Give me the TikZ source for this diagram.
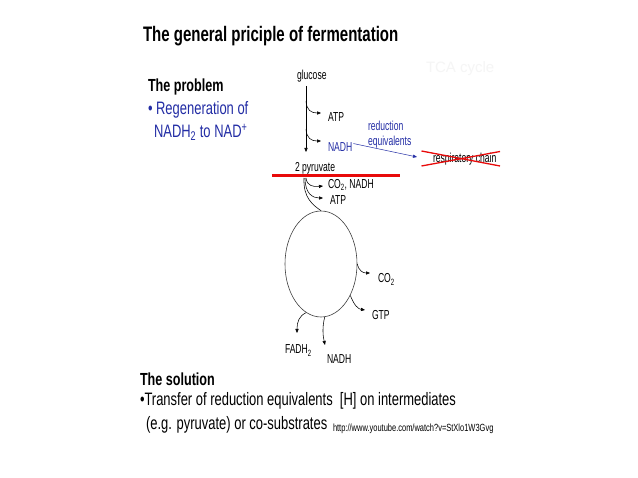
\documentclass[tikz,border=0pt]{standalone}
\usepackage{fontspec}
\setmainfont{Liberation Sans}[FakeStretch=0.72]
\newfontfamily\plainfont{Liberation Sans}
\newfontfamily\labfont{Liberation Sans}[FakeStretch=0.66]
\newfontfamily\titfont{Liberation Sans}[FakeStretch=0.715]
\usetikzlibrary{arrows.meta,shapes.geometric}
\definecolor{slideblue}{RGB}{35,45,165}
\definecolor{slidered}{RGB}{232,10,10}
\definecolor{ghost}{RGB}{245,245,245}
\begin{document}
\begin{tikzpicture}[x=1pt,y=-1pt,
  txt/.style={anchor=base west,inner sep=0pt,outer sep=0pt},
  title/.style={txt,font=\titfont\bfseries\fontsize{21}{24}\selectfont},
  head/.style={txt,font=\bfseries\fontsize{17.5}{20}\selectfont},
  body/.style={txt,font=\fontsize{18}{21}\selectfont},
  lbl/.style={txt,font=\labfont\fontsize{13}{15}\selectfont},
  arr/.style={-{Triangle[length=4pt,width=3.2pt]},line width=0.55pt},
  cross/.style={draw=slidered,line width=1.3pt}]
\fill[white] (0,0) rectangle (638,478);
\useasboundingbox (0,0) rectangle (638,478);

% texts
\node[title] (ttl) at (143,42) {The general priciple of fermentation};
\node[txt,font=\plainfont\fontsize{15}{18}\selectfont,text=ghost] (tca label) at (426,73) {TCA cycle};
\node[head] (prob) at (148,92) {The problem};
\node[body,text=slideblue] (prob1) at (148,115) {\textbullet\ Regeneration of};
\node[body,text=slideblue] (prob2) at (154,138) {NADH\textsubscript{2} to NAD\textsuperscript{+}};

% glycolysis
\node[lbl] (glc) at (297,80) {glucose};
\node[lbl] (atp1) at (328,121.5) {ATP};
\node[lbl,text=slideblue] (nadh1) at (328,151.5) {NADH};
\node[lbl,text=slideblue] (red1) at (368,131) {reduction};
\node[lbl,text=slideblue] (red2) at (368,146) {equivalents};
\node[lbl] (resp) at (433,163) {respiratory chain};
\node[lbl] (pyr) at (295,171.5) {2 pyruvate};
\node[lbl] (co2a) at (328,188.5) {CO\textsubscript{2}, NADH};
\node[lbl] (atp2) at (330,205) {ATP};

\coordinate (gtop) at (306,86);
\coordinate (gend) at (306,152);
\draw[arr] (gtop) -- (gend);
\draw[arr] (306,101) .. controls (306.5,110) and (311,113) .. (321,113);
\draw[arr] (306,129) .. controls (306.5,138) and (311,141) .. (321,141);
\draw[arr,draw=slideblue,line width=0.5pt] (nadh1.east) ++(1,-3.5) coordinate (bstart) -- (417,157) coordinate (bend);

% crossed out respiratory chain
\draw[cross] (421.5,151) -- (500,166);
\draw[cross] (421.5,166) -- (500,151.5);

% red bar
\draw[draw=slidered,line width=3pt] (272,175.5) -- (400,175.5);

% TCA circle
\node[ellipse,draw=black!75,line width=0.6pt,minimum width=72pt,minimum height=106pt,inner sep=0pt] (tca) at (321,264) {};
\draw[arr] (306,178) .. controls (307,186) and (313,187) .. (323,186);
\draw[arr] (305,178) .. controls (305,194) and (313,198) .. (323,198);
\draw[line width=0.55pt] (304,178) .. controls (303,198) and (313,205) .. (tca.north);

\node[lbl] (co2b) at (378,283) {CO\textsubscript{2}};
\node[lbl] (gtp) at (372,319.5) {GTP};
\node[lbl] (fadh) at (285,354) {FADH\textsubscript{2}};
\node[lbl] (nadh2) at (327,364) {NADH};

\draw[arr] (tca.east) .. controls (359,271) and (363,273) .. (370,273);
\draw[arr] (tca.-47) .. controls (354,305) and (358,309) .. (365,310);
\draw[arr] (tca.-107) .. controls (299,316) and (297,322) .. (297,333);
\draw[arr] (tca.-86) .. controls (322,328) and (323,336) .. (325,345);

% solution
\node[head] (sol) at (140,385.5) {The solution};
\node[body] (sol1) at (140,405.5) {\textbullet Transfer of reduction equivalents\ \ [H] on intermediates};
\node[body] (sol2) at (146,430) {(e.g. pyruvate) or co-substrates};
\node[txt,font=\fontsize{10.4}{12}\selectfont] (url) at (333,432) {http://www.youtube.com/watch?v=StXlo1W3Gvg};
\end{tikzpicture}
\end{document}
